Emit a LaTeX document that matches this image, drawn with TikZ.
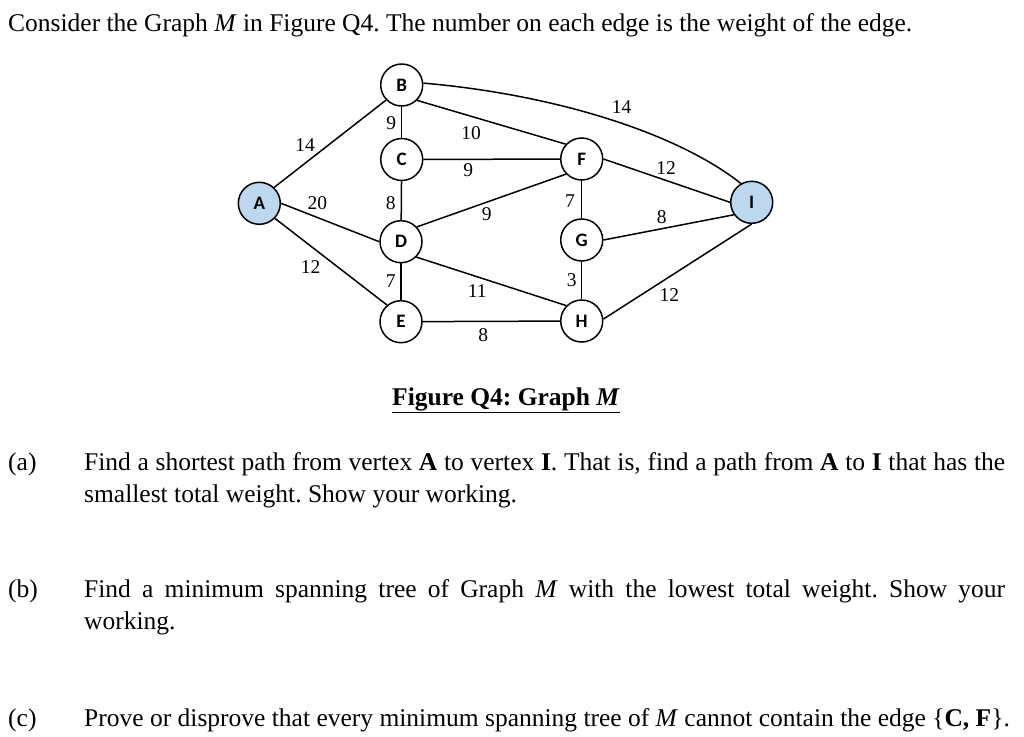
\documentclass[tikz,border=0pt]{standalone}
\usepackage{fontspec}
\setmainfont{Liberation Serif}
\newfontfamily\nodefont{Carlito}
\definecolor{termblue}{RGB}{189,215,238}
\frenchspacing
\begin{document}
\begin{tikzpicture}[x=1pt,y=-1pt,
  vert/.style={circle,draw,line width=1.5pt,minimum size=42pt,inner sep=0pt,fill=white,font=\nodefont\fontsize{19}{19}\bfseries},
  term/.style={vert,fill=termblue},
  edgeline/.style={line width=1.5pt},
  wlabel/.style={font=\fontsize{19.5}{19.5}\selectfont,inner sep=0pt},
  body/.style={font=\fontsize{25.5}{32}\selectfont,inner sep=0pt}]
\useasboundingbox (0,0) rectangle (1024,736);
% vertices
\node[term] (A) at (259.3,203.3) {A};
\node[vert] (B) at (401.7,85) {B};
\node[vert] (C) at (401.7,159.5) {C};
\node[vert] (D) at (401,241.7) {D};
\node[vert] (E) at (401,321.7) {E};
\node[vert] (F) at (581.7,159) {F};
\node[vert] (G) at (581.7,240) {G};
\node[vert] (H) at (581.7,321) {H};
\node[term] (I) at (751.7,202.3) {I};
% edges
\draw[edgeline] (A.47) -- (B.224);
\draw[edgeline] (A.east) -- (D.west);
\draw[edgeline] (A.-44) -- (E.130);
\draw[edgeline] (B) -- (C);
\draw[edgeline] (C) -- (D);
\draw[edgeline] (D) -- (E);
\draw[edgeline] (B.-45) -- (F.137);
\draw[edgeline] (C) -- (F);
\draw[edgeline] (D.43) -- (F.224);
\draw[edgeline] (D.-45) -- (H.135);
\draw[edgeline] (E) -- (H);
\draw[edgeline] (F) -- (G);
\draw[edgeline] (G) -- (H);
\draw[edgeline] (B.5) .. controls (560,95) and (680,135) .. (I.120);
\draw[edgeline] (F.east) -- (I.west);
\draw[edgeline] (G.east) -- (I.-145);
\draw[edgeline] (H.5) -- (I.-90);
% weights
\node[wlabel] (wAB) at (305,145) {14};
\node[wlabel] (wAD) at (317.3,202.7) {20};
\node[wlabel] (wAE) at (310.7,267.3) {12};
\node[wlabel] (wBC) at (391.3,123.3) {9};
\node[wlabel] (wCD) at (390.7,203.3) {8};
\node[wlabel] (wDE) at (390.7,280.7) {7};
\node[wlabel] (wBI) at (621.7,106.7) {14};
\node[wlabel] (wBF) at (471,133.3) {10};
\node[wlabel] (wCF) at (468.3,170) {9};
\node[wlabel] (wDF) at (486.7,214) {9};
\node[wlabel] (wFI) at (666,168.3) {12};
\node[wlabel] (wFG) at (570,200.7) {7};
\node[wlabel] (wGI) at (661.7,217.3) {8};
\node[wlabel] (wDH) at (477.3,291) {11};
\node[wlabel] (wGH) at (571.7,280) {3};
\node[wlabel] (wHI) at (669.3,295) {12};
\node[wlabel] (wEH) at (483.3,335) {8};
% texts
\node[body,anchor=base west] (head) at (8,31.5) {Consider the Graph \textit{M} in Figure Q4. The number on each edge is the weight of the edge.};
\node[body,anchor=base] (cap) at (506,405) {\underline{\textbf{Figure Q4: Graph \textit{M}}}};
\node[body,anchor=base west] (la) at (8,470) {(a)};
\node[body,anchor=north west,text width=921pt,align=justify] (ta) at (84,452) {Find a shortest path from vertex \textbf{A} to vertex \textbf{I}. That is, find a path from \textbf{A} to \textbf{I} that has the\linebreak smallest total weight. Show your working.};
\node[body,anchor=base west] (lb) at (8,597) {(b)};
\node[body,anchor=north west,text width=921pt,align=justify] (tb) at (84,579) {Find a minimum spanning tree of Graph \textit{M} with the lowest total weight. Show your\linebreak working.};
\node[body,anchor=base west] (lc) at (8,726) {(c)};
\node[body,anchor=base west] (tc) at (84,726) {Prove or disprove that every minimum spanning tree of \textit{M} cannot contain the edge \{\textbf{C, F}\}.};
\end{tikzpicture}
\end{document}
